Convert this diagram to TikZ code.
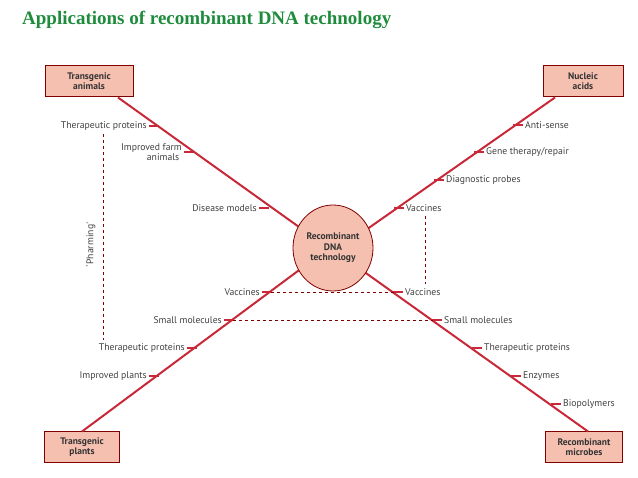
\documentclass[tikz,border=0pt]{standalone}
\usetikzlibrary{shapes.geometric}
\usepackage{fontspec}
\setmainfont{Liberation Serif}
\newfontfamily\lab{PT Sans}
\begin{document}
\begin{tikzpicture}[x=1pt,y=-1pt,
  lab/.style={font=\lab\fontsize{9.7}{10.5}\selectfont,text=black!75,inner sep=1pt,align=center},
  box/.style={draw=red!50!black,fill={rgb,255:red,245;green,192;blue,176},line width=0.8pt,minimum width=80pt,minimum height=31pt,align=center,font=\lab\bfseries\fontsize{9.5}{10.5}\selectfont,text=black!80},
  arm/.style={draw={rgb,255:red,200;green,40;blue,55},line width=2pt},
  tk/.style={draw={rgb,255:red,200;green,40;blue,55},line width=2.4pt},
  dsh/.style={draw=red!50!black,dashed,line width=0.7pt}]
\useasboundingbox (0,0) rectangle (638,478);
\node[anchor=west,font=\bfseries\fontsize{19}{21}\selectfont,text={rgb,255:red,30;green,140;blue,60},inner sep=0] (title) at (22,20) {Applications of recombinant DNA technology};
\node[box,minimum width=88pt] (ta) at (89,81) {Transgenic\\animals};
\node[box] (na) at (583,81) {Nucleic\\acids};
\node[box,minimum width=75pt] (tp) at (82,447) {Transgenic\\plants};
\node[box,minimum width=77pt] (rm) at (584,447) {Recombinant\\microbes};
% arms
\coordinate (a1) at (118,97.5); \coordinate (a2) at (313,237);
\coordinate (b1) at (555,97.5); \coordinate (b2) at (353,239);
\coordinate (c1) at (82,431.5); \coordinate (c2) at (310,262);
\coordinate (d1) at (588,431.5); \coordinate (d2) at (356,266);
\draw[arm] (a1) -- (a2); \draw[arm] (b1) -- (b2);
\draw[arm] (c1) -- (c2); \draw[arm] (d1) -- (d2);
\node[draw=red!50!black,fill={rgb,255:red,245;green,192;blue,176},ellipse,line width=0.8pt,minimum width=80pt,minimum height=86pt,inner sep=0pt,font=\lab\bfseries\fontsize{9.5}{10.5}\selectfont,text=black!80,align=center] (c) at (333,248) {Recombinant\\DNA\\technology};
% left ticks
\foreach \x/\y/\t/\n in {157/126/Therapeutic proteins/l1,192/152/{Improved farm\\\hspace*{2.4em}animals}/l2,267/208/Disease models/l3,270/292/Vaccines/l4,232/320/Small molecules/l5,195/348/Therapeutic proteins/l6,157/376/Improved plants/l7}{
  \draw[tk] (\x-8,\y) -- (\x+2,\y);
  \node[lab,anchor=east] (\n) at (\x-9,\y) {\t};}
% right ticks
\foreach \x/\y/\t/\n in {515/125/Anti-sense/r1,476/152/Gene therapy\slash repair/r2,436/180/Diagnostic probes/r3,396/208/Vaccines/r4,395/292/Vaccines/r5,434/320/Small molecules/r6,474/348/Therapeutic proteins/r7,513/376/Enzymes/r8,553/404/Biopolymers/r9}{
  \draw[tk] (\x-2,\y) -- (\x+8,\y);
  \node[lab,anchor=west] (\n) at (\x+9,\y) {\t};}
% dashed
\coordinate (p1) at (103,134); \coordinate (p2) at (103,340);
\draw[dsh] (p1) -- (p2);
\node[lab,rotate=90] (ph) at (91,245) {`Pharming'};
\coordinate (v1) at (425,216); \coordinate (v2) at (425,284);
\draw[dsh] (v1) -- (v2);
\draw[dsh] (271,292) -- (394,292);
\draw[dsh] (233,320) -- (433,320);
\end{tikzpicture}
\end{document}
